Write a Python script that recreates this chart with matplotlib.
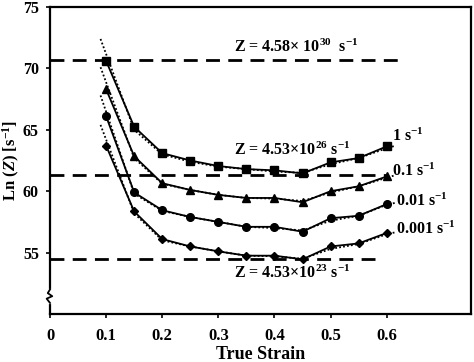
import matplotlib.pyplot as plt

plt.rcParams['font.family'] = ['Liberation Serif', 'DejaVu Serif']
plt.rcParams['font.weight'] = 'bold'
plt.rcParams['mathtext.fontset'] = 'custom'
plt.rcParams['mathtext.rm'] = 'Liberation Serif:bold'
plt.rcParams['mathtext.it'] = 'Liberation Serif:bold:italic'
plt.rcParams['mathtext.bf'] = 'Liberation Serif:bold'

# data
strain = [0.1, 0.15, 0.2, 0.25, 0.3, 0.35, 0.4, 0.45, 0.5, 0.55, 0.6]
lnz_1 = [70.6, 65.25, 63.1, 62.5, 62.05, 61.8, 61.7, 61.45, 62.35, 62.7, 63.65]
lnz_01 = [68.3, 62.85, 60.65, 60.1, 59.7, 59.45, 59.45, 59.1, 60.0, 60.4, 61.2]
lnz_001 = [66.1, 59.9, 58.45, 57.9, 57.5, 57.1, 57.1, 56.7, 57.8, 58.0, 58.95]
lnz_0001 = [63.7, 58.35, 56.1, 55.5, 55.1, 54.75, 54.75, 54.45, 55.5, 55.75, 56.6]

# fitted (dotted) curves
fit_strain = [0.09, 0.15, 0.2, 0.25, 0.3, 0.35, 0.4, 0.45, 0.5, 0.55, 0.6, 0.615]
fit_1 = [72.4, 65.0, 63.0, 62.4, 62.0, 61.8, 61.6, 61.5, 62.2, 62.7, 63.5, 63.7]
fit_01 = [70.1, 62.7, 60.6, 60.1, 59.7, 59.45, 59.4, 59.2, 59.9, 60.4, 61.1, 61.3]
fit_001 = [67.8, 59.8, 58.4, 57.9, 57.5, 57.1, 57.0, 56.8, 57.6, 58.0, 58.9, 59.05]
fit_0001 = [65.4, 58.2, 56.0, 55.5, 55.1, 54.75, 54.7, 54.5, 55.3, 55.7, 56.5, 56.65]

series = [(lnz_1, fit_1, 's', '1 s$^{-1}$', 0.61, 0.85),
          (lnz_01, fit_01, '^', '0.1 s$^{-1}$', 0.61, 0.4),
          (lnz_001, fit_001, 'o', '0.01 s$^{-1}$', 0.617, 0.25),
          (lnz_0001, fit_0001, 'D', '0.001 s$^{-1}$', 0.617, 0.3)]

# constant Z lines
z_levels = [70.7, 61.3, 54.45]
z_ends = [0.62, 0.6, 0.585]
z_texts = ['Z = 4.58\u00d7 10$^{30}$  s$^{-1}$',
           'Z = 4.53\u00d710$^{26}$ s$^{-1}$',
           'Z = 4.53\u00d710$^{23}$ s$^{-1}$']
z_text_y = [71.7, 63.3, 53.3]

fig = plt.figure(figsize=(4.74, 3.62), dpi=100)
ax = fig.add_axes([0.1055, 0.1326, 0.888, 0.848])

for lvl, xe in zip(z_levels, z_ends):
    ax.plot([0, xe], [lvl, lvl], color='black', lw=2, dashes=(5, 3))

for vals, fit, mk, lab, lx, dy in series:
    ax.plot(fit_strain, fit, color='black', lw=1.3, linestyle=(0, (1, 1.2)))
    ms = 4.5 if mk == 'D' else 5.5
    ax.plot(strain, vals, color='black', lw=1.3, marker=mk, markersize=ms)
    ax.text(lx, vals[-1] + dy, lab, fontsize=11.5, fontweight='bold',
            ha='left', va='center')

for txt, ty in zip(z_texts, z_text_y):
    ax.text(0.327, ty, txt, fontsize=11.5, fontweight='bold', ha='left', va='center')

ax.set_xlim(0, 0.75)
ax.set_ylim(50, 75)
ax.set_xticks([0, 0.1, 0.2, 0.3, 0.4, 0.5, 0.6])
ax.set_xticklabels(['0', '0.1', '0.2', '0.3', '0.4', '0.5', '0.6'])
ax.set_yticks([55, 60, 65, 70, 75])
ax.tick_params(axis='x', labelsize=12, width=1.2, length=3, pad=7)
ax.tick_params(axis='y', labelsize=11.5, width=1.2, length=3, pad=5)
ax.set_xlabel('True Strain', fontsize=13, fontweight='bold')
ax.set_ylabel('Ln ($Z$) [s$^{-1}$]', fontsize=12, fontweight='bold')
ax.xaxis.set_label_coords(0.5, -0.105)
ax.yaxis.set_label_coords(-0.066, 0.5)
for s in ax.spines.values():
    s.set_linewidth(1.6)

# axis break mark on the y axis
ax.plot([0, 0], [51.0, 51.9], color='white', lw=3, clip_on=False, zorder=5)
ax.plot([0, -0.006, 0.004, -0.004, 0], [50.9, 51.25, 51.45, 51.7, 52.0],
        color='black', lw=1.3, clip_on=False, zorder=6)

fig.savefig('out.png', dpi=100)
